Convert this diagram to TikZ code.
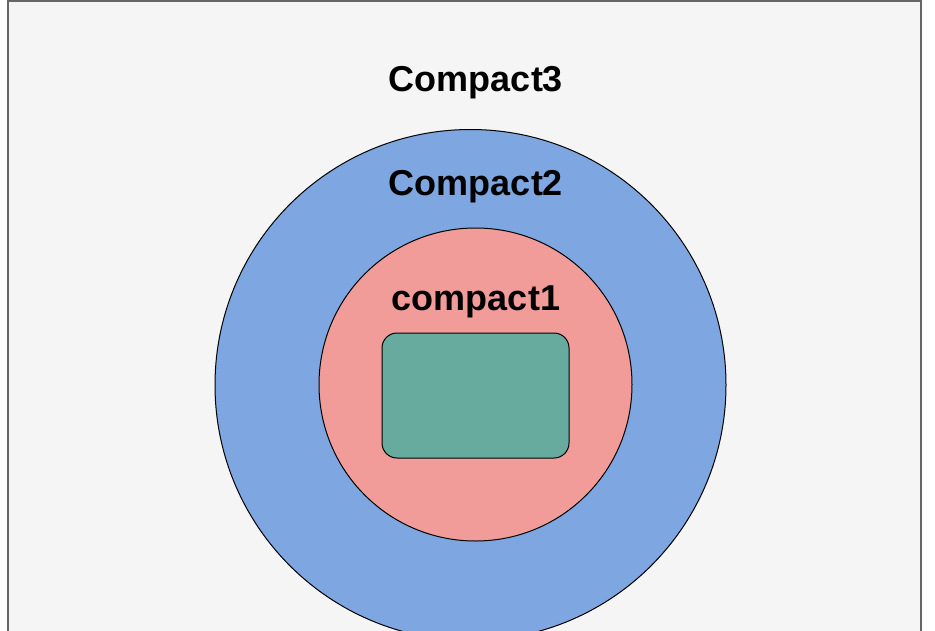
\documentclass[tikz,border=0pt]{standalone}
\usepackage{fontspec}
\setmainfont{Liberation Sans}
\definecolor{bgc}{HTML}{F5F5F5}
\definecolor{brd}{HTML}{666666}
\definecolor{bluec}{HTML}{7EA6E0}
\definecolor{redc}{HTML}{F19C99}
\definecolor{greenc}{HTML}{67AB9F}
\begin{document}
\begin{tikzpicture}[x=1pt,y=-1pt,
  lbl/.style={font=\fontsize{36}{40}\selectfont\bfseries, inner sep=0pt, anchor=center}]
\useasboundingbox (0,0) rectangle (935,630);
\begin{scope}
\clip (0,0) rectangle (935,630);
\draw[brd, line width=2pt, fill=bgc] (8,0.5) rectangle (921,700);
\node[draw=black, line width=1pt, fill=bluec, circle, minimum size=511pt, inner sep=0pt] (outer) at (470.5,385) {};
\node[draw=black, line width=1pt, fill=redc, circle, minimum size=313pt, inner sep=0pt] (inner) at (475.5,384.5) {};
\node[draw=black, line width=1pt, fill=greenc, rounded corners=15pt, minimum width=187pt, minimum height=125pt, inner sep=0pt] (core) at (475.5,395.5) {};
\end{scope}
\node[lbl] (t3) at (476,83) {Compact3};
\node[lbl] (t2) at (476,187) {Compact2};
\node[lbl] (t1) at (476,302) {compact1};
\end{tikzpicture}
\end{document}
